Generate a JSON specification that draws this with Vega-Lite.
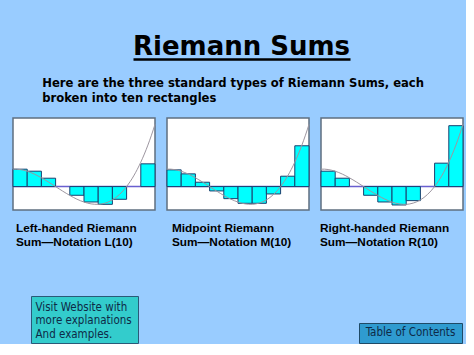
{
  "$schema": "https://vega.github.io/schema/vega-lite/v6.json",
  "background": "#99ccff",
  "padding": {"left": 10, "top": 34, "right": 0, "bottom": 0},
  "config": {"view": {"stroke": null}},
  "datasets": {
    "curve": [
      {"x": 0, "y": 52.0}, {"x": 0.25, "y": 52.1}, {"x": 0.5, "y": 51.0}, {"x": 0.75, "y": 48.9},
      {"x": 1, "y": 45.9}, {"x": 1.25, "y": 42.0}, {"x": 1.5, "y": 37.4}, {"x": 1.75, "y": 32.1},
      {"x": 2, "y": 26.3}, {"x": 2.25, "y": 20.1}, {"x": 2.5, "y": 13.6}, {"x": 2.75, "y": 6.9},
      {"x": 3, "y": 0}, {"x": 3.25, "y": -6.9}, {"x": 3.5, "y": -13.6}, {"x": 3.75, "y": -20.2},
      {"x": 4, "y": -26.4}, {"x": 4.25, "y": -32.3}, {"x": 4.5, "y": -37.6}, {"x": 4.75, "y": -42.3},
      {"x": 5, "y": -46.3}, {"x": 5.25, "y": -49.5}, {"x": 5.5, "y": -51.7}, {"x": 5.75, "y": -52.9},
      {"x": 6, "y": -53.0}, {"x": 6.25, "y": -51.8}, {"x": 6.5, "y": -49.3}, {"x": 6.75, "y": -45.3},
      {"x": 7, "y": -39.8}, {"x": 7.25, "y": -32.6}, {"x": 7.5, "y": -23.6}, {"x": 7.75, "y": -12.8},
      {"x": 8, "y": 0}, {"x": 8.25, "y": 14.9}, {"x": 8.5, "y": 31.9}, {"x": 8.75, "y": 51.3},
      {"x": 9, "y": 73.0}, {"x": 9.25, "y": 97.2}, {"x": 9.5, "y": 124.0}, {"x": 9.75, "y": 153.6},
      {"x": 10, "y": 185.9}
    ],
    "left": [
      {"x0": 0, "x1": 1, "value": 52}, {"x0": 1, "x1": 2, "value": 46}, {"x0": 2, "x1": 3, "value": 25},
      {"x0": 4, "x1": 5, "value": -26}, {"x0": 5, "x1": 6, "value": -46}, {"x0": 6, "x1": 7, "value": -53},
      {"x0": 7, "x1": 8, "value": -38}, {"x0": 9, "x1": 10, "value": 68}
    ],
    "mid": [
      {"x0": 0, "x1": 1, "value": 50}, {"x0": 1, "x1": 2, "value": 38}, {"x0": 2, "x1": 3, "value": 13},
      {"x0": 3, "x1": 4, "value": -13}, {"x0": 4, "x1": 5, "value": -36}, {"x0": 5, "x1": 6, "value": -50},
      {"x0": 6, "x1": 7, "value": -50}, {"x0": 7, "x1": 8, "value": -22}, {"x0": 8, "x1": 9, "value": 31},
      {"x0": 9, "x1": 10, "value": 122}
    ],
    "right": [
      {"x0": 0, "x1": 1, "value": 46}, {"x0": 1, "x1": 2, "value": 25},
      {"x0": 3, "x1": 4, "value": -26}, {"x0": 4, "x1": 5, "value": -46}, {"x0": 5, "x1": 6, "value": -55},
      {"x0": 6, "x1": 7, "value": -42}, {"x0": 8, "x1": 9, "value": 70}, {"x0": 9, "x1": 10, "value": 182}
    ]
  },
  "spacing": 17,
  "vconcat": [
    {
      "spacing": 119,
      "bounds": "flush",
      "hconcat": [
        {"width": 1, "height": 1, "data": {"values": []}, "mark": "text", "encoding": {}},
        {
          "width": 217, "height": 8,
          "data": {"values": [{"title": "Riemann Sums"}]},
          "mark": {"type": "text", "font": "DejaVu Sans", "fontWeight": "bold", "fontSize": 26, "baseline": "alphabetic", "color": "black"},
          "encoding": {
            "x": {"field": "title", "type": "nominal", "scale": {"paddingInner": 0, "paddingOuter": 0},
                  "axis": {"labels": false, "ticks": false, "title": null, "grid": false, "domainColor": "black", "domainWidth": 2.5}},
            "text": {"field": "title"}
          }
        }
      ]
    },
    {
      "spacing": 45,
      "vconcat": [
        {
          "title": {"text": ["Here are the three standard types of Riemann Sums, each", "broken into ten rectangles"],
                    "anchor": "start", "dx": 32, "fontSize": 12.9, "font": "DejaVu Sans Condensed, DejaVu Sans", "fontWeight": "bold",
                    "color": "black", "lineHeight": 15, "offset": 12},
          "spacing": 12,
          "bounds": "flush",
          "hconcat": [
            {
              "width": 142, "height": 92,
              "view": {"fill": "white", "stroke": "#5f6f80", "strokeWidth": 1.5},
              "title": {"text": ["Left-handed Riemann", "Sum\u2014Notation L(10)"], "orient": "bottom", "anchor": "start", "dx": 5,
                        "font": "Liberation Sans", "fontWeight": "bold", "fontSize": 11.8, "lineHeight": 13.5, "offset": 13, "color": "black"},
              "layer": [
                {"data": {"values": [{"level": 0}]}, "mark": {"type": "rule", "color": "#6a5fcf", "strokeWidth": 1.5},
                 "encoding": {"y": {"field": "level", "type": "quantitative", "scale": {"domain": [-70, 205], "nice": false, "zero": false}, "axis": null}}},
                {"data": {"name": "left"}, "mark": {"type": "rect", "fill": "#00ffff", "stroke": "#1b3f6e", "strokeWidth": 1},
                 "encoding": {
                   "x": {"field": "x0", "type": "quantitative", "scale": {"domain": [0, 10], "nice": false, "zero": false}, "axis": null},
                   "x2": {"field": "x1"},
                   "y": {"field": "value", "type": "quantitative", "scale": {"domain": [-70, 205], "nice": false, "zero": false}, "axis": null},
                   "y2": {"datum": 0}}},
                {"data": {"name": "curve"}, "mark": {"type": "line", "color": "#9d96a0", "strokeWidth": 1, "interpolate": "monotone"},
                 "encoding": {"x": {"field": "x", "type": "quantitative"}, "y": {"field": "y", "type": "quantitative"}}}
              ]
            },
            {
              "width": 142, "height": 92,
              "view": {"fill": "white", "stroke": "#5f6f80", "strokeWidth": 1.5},
              "title": {"text": ["Midpoint Riemann", "Sum\u2014Notation M(10)"], "orient": "bottom", "anchor": "start", "dx": 7,
                        "font": "Liberation Sans", "fontWeight": "bold", "fontSize": 11.8, "lineHeight": 13.5, "offset": 13, "color": "black"},
              "layer": [
                {"data": {"values": [{"level": 0}]}, "mark": {"type": "rule", "color": "#6a5fcf", "strokeWidth": 1.5},
                 "encoding": {"y": {"field": "level", "type": "quantitative", "scale": {"domain": [-70, 205], "nice": false, "zero": false}, "axis": null}}},
                {"data": {"name": "mid"}, "mark": {"type": "rect", "fill": "#00ffff", "stroke": "#1b3f6e", "strokeWidth": 1},
                 "encoding": {
                   "x": {"field": "x0", "type": "quantitative", "scale": {"domain": [0, 10], "nice": false, "zero": false}, "axis": null},
                   "x2": {"field": "x1"},
                   "y": {"field": "value", "type": "quantitative", "scale": {"domain": [-70, 205], "nice": false, "zero": false}, "axis": null},
                   "y2": {"datum": 0}}},
                {"data": {"name": "curve"}, "mark": {"type": "line", "color": "#9d96a0", "strokeWidth": 1, "interpolate": "monotone"},
                 "encoding": {"x": {"field": "x", "type": "quantitative"}, "y": {"field": "y", "type": "quantitative"}}}
              ]
            },
            {
              "width": 142, "height": 92,
              "view": {"fill": "white", "stroke": "#5f6f80", "strokeWidth": 1.5},
              "title": {"text": ["Right-handed Riemann", "Sum\u2014Notation R(10)"], "orient": "bottom", "anchor": "start", "dx": 1,
                        "font": "Liberation Sans", "fontWeight": "bold", "fontSize": 11.8, "lineHeight": 13.5, "offset": 13, "color": "black"},
              "layer": [
                {"data": {"values": [{"level": 0}]}, "mark": {"type": "rule", "color": "#6a5fcf", "strokeWidth": 1.5},
                 "encoding": {"y": {"field": "level", "type": "quantitative", "scale": {"domain": [-70, 205], "nice": false, "zero": false}, "axis": null}}},
                {"data": {"name": "right"}, "mark": {"type": "rect", "fill": "#00ffff", "stroke": "#1b3f6e", "strokeWidth": 1},
                 "encoding": {
                   "x": {"field": "x0", "type": "quantitative", "scale": {"domain": [0, 10], "nice": false, "zero": false}, "axis": null},
                   "x2": {"field": "x1"},
                   "y": {"field": "value", "type": "quantitative", "scale": {"domain": [-70, 205], "nice": false, "zero": false}, "axis": null},
                   "y2": {"datum": 0}}},
                {"data": {"name": "curve"}, "mark": {"type": "line", "color": "#9d96a0", "strokeWidth": 1, "interpolate": "monotone"},
                 "encoding": {"x": {"field": "x", "type": "quantitative"}, "y": {"field": "y", "type": "quantitative"}}}
              ]
            }
          ]
        },
        {
          "spacing": 17,
          "bounds": "flush",
          "hconcat": [
            {"width": 1, "height": 1, "data": {"values": []}, "mark": "text", "encoding": {}},
            {
              "spacing": 221,
              "bounds": "flush",
              "hconcat": [
                {
                  "width": 107, "height": 47,
                  "view": {"fill": "#33cccc", "stroke": "#2a5a78", "strokeWidth": 1},
                  "data": {"values": [{"label": "Visit Website with\nmore explanations\nAnd examples."}]},
                  "mark": {"type": "text", "lineBreak": "\n", "align": "left", "baseline": "middle", "dx": -49, "dy": -11.5,
                           "font": "DejaVu Sans Condensed, DejaVu Sans", "fontSize": 11.5, "lineHeight": 13.4, "color": "#0e2a47"},
                  "encoding": {"text": {"field": "label"}}
                },
                {
                  "spacing": 26,
                  "bounds": "flush",
                  "vconcat": [
                    {"width": 1, "height": 1, "data": {"values": []}, "mark": "text", "encoding": {}},
                    {
                      "width": 103, "height": 20,
                      "view": {"fill": "#2f9bd0", "stroke": "#1f4a66", "strokeWidth": 1},
                      "data": {"values": [{"label": "Table of Contents"}]},
                      "mark": {"type": "text", "align": "center", "baseline": "middle",
                               "font": "DejaVu Sans Condensed, DejaVu Sans", "fontSize": 11.5, "color": "#0e2a47"},
                      "encoding": {"text": {"field": "label"}}
                    }
                  ]
                }
              ]
            }
          ]
        }
      ]
    }
  ]
}
